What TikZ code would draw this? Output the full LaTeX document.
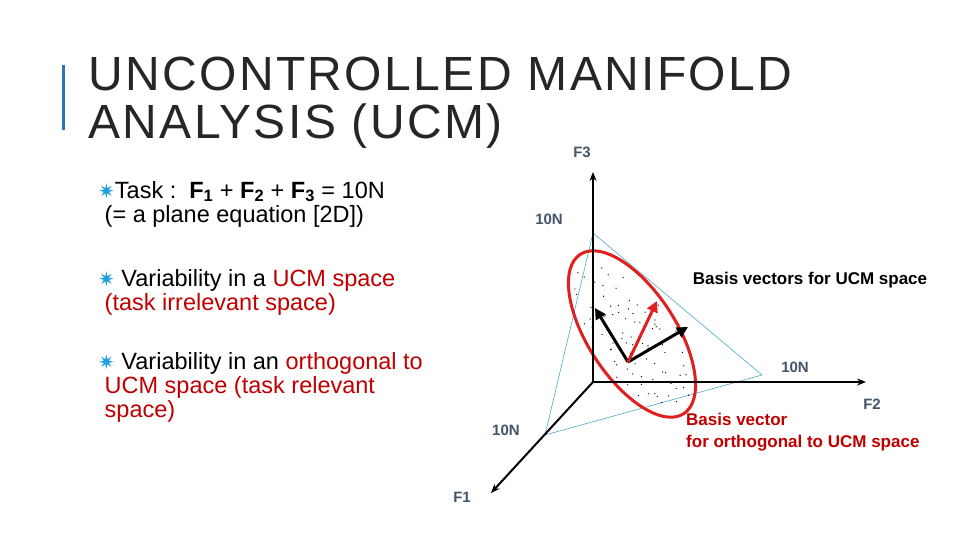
\documentclass[tikz,border=0pt]{standalone}
\usepackage{fontspec}
\setmainfont{Liberation Sans}
\newfontfamily\titlefont[LetterSpace=5]{Liberation Sans}
\newfontfamily\djv{DejaVu Sans}
\usetikzlibrary{arrows.meta}
\definecolor{titlec}{HTML}{262626}
\definecolor{barc}{HTML}{2E75B6}
\definecolor{lblc}{HTML}{44546A}
\definecolor{redc}{HTML}{C00000}
\definecolor{starc}{HTML}{1FA0E0}
\definecolor{planec}{HTML}{4BACC6}
\definecolor{ellc}{HTML}{E02020}
\begin{document}
\begin{tikzpicture}[x=1pt,y=-1pt,
  axis/.style={line width=2pt,-{Stealth[length=9pt,width=7pt]}},
  lbl/.style={font=\bfseries\fontsize{15}{17}\selectfont,text=lblc},
  body/.style={font=\fontsize{23.5}{25}\selectfont,align=left,anchor=north west,inner sep=0pt},
  vec/.style={line width=3pt,-{Triangle[length=11pt,width=11pt]}},
  planeln/.style={planec,line width=0.6pt}]
\useasboundingbox (0,0) rectangle (960,540);
\fill[white] (0,0) rectangle (960,540);
\fill[barc] (62,65) rectangle (65,130);
\node[anchor=north west,inner sep=0pt,text=titlec,font=\titlefont\fontsize{48}{48}\selectfont,align=left] (title) at (88,57) {UNCONTROLLED MANIFOLD\\ANALYSIS (UCM)};
\node[body] (t1) at (98,181) {{\djv\color{starc}\fontsize{20}{20}\selectfont ✷}Task :\ \ $\textbf{F}_{\mathbf 1}$ + $\textbf{F}_{\mathbf 2}$ + $\textbf{F}_{\mathbf 3}$ = 10N\\[-1pt]\ (= a plane equation [2D])};
\node[body] (t2) at (98,269) {{\djv\color{starc}\fontsize{20}{20}\selectfont ✷}\ Variability in a \textcolor{redc}{UCM space}\\[-1pt]\ \textcolor{redc}{(task irrelevant space)}};
\node[body] (t3) at (98,352) {{\djv\color{starc}\fontsize{20}{20}\selectfont ✷}\ Variability in an \textcolor{redc}{orthogonal to}\\[-1pt]\ \textcolor{redc}{UCM space (task relevant}\\[-1pt]\ \textcolor{redc}{space)}};
% axes
\coordinate (O) at (593,382);
\coordinate (A3) at (593,172);
\coordinate (A2) at (866,382);
\coordinate (A1) at (491,493);
\coordinate (P3) at (593,233);
\coordinate (P2) at (762,375);
\coordinate (P1) at (545,435);
\draw[planeln] (P3) -- (P1) -- (P2) -- cycle;
% dots
\pgfmathsetseed{7}
\begin{scope}[shift={(632,334)},rotate=-57]
\foreach \i in {1,...,90}{
  \pgfmathsetmacro{\r}{sqrt(rnd)}
  \pgfmathsetmacro{\t}{360*rnd}
  \fill[black] ({90*\r*cos(\t)},{40*\r*sin(\t)}) circle (0.7);
}
\draw[ellc,line width=3pt] (0,0) ellipse (95 and 44);
\end{scope}
\draw[axis] (O) -- (A3);
\draw[axis] (O) -- (A2);
\draw[axis] (O) -- (A1);
\coordinate (V) at (628,362);
\coordinate (B1) at (595,308);
\coordinate (B2) at (688,327);
\coordinate (R) at (657,301);
\draw[vec] (V) -- (B1);
\draw[vec] (V) -- (B2);
\draw[vec,ellc] (V) -- (R);
\node[lbl] (f3) at (582,152) {F3};
\node[lbl] (f2) at (872,404) {F2};
\node[lbl] (f1) at (462,497) {F1};
\node[lbl] (n3) at (549,219) {10N};
\node[lbl] (n2) at (795,367) {10N};
\node[lbl] (n1) at (506,430) {10N};
\node[font=\bfseries\fontsize{17}{17}\selectfont] (bu) at (810,280) {Basis vectors for UCM space};
\node[font=\bfseries\fontsize{17}{22}\selectfont,text=redc,align=left,anchor=west,inner sep=0pt] (bo) at (686,432) {Basis vector\\for orthogonal to UCM space};
\end{tikzpicture}
\end{document}
